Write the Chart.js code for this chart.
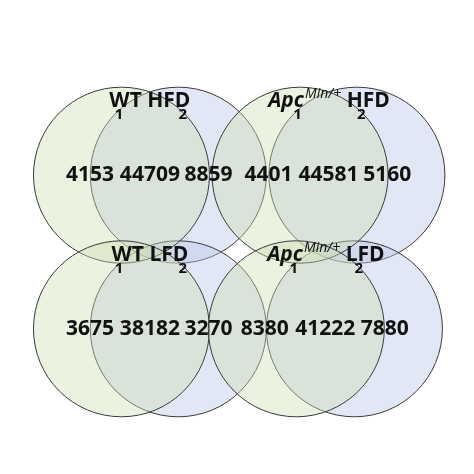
<!DOCTYPE html>
<html><head><meta charset="utf-8">
<script src="https://cdn.jsdelivr.net/npm/chart.js@4/dist/chart.umd.min.js"></script>
<style>html,body{margin:0;padding:0;background:#fff}#w{width:474px;height:474px}</style>
</head><body><div id="w"><canvas id="c"></canvas></div>
<script>
const panelNames = ["WT HFD", "Apc HFD", "WT LFD", "Apc LFD"];
const onlySet1 = ["4153", "4401", "3675", "8380"];
const shared   = ["44709", "44581", "38182", "41222"];
const onlySet2 = ["8859", "5160", "3270", "7880"];
const setLabels = ["1", "2"];

// layout (pixel-space on a 0..474 grid)
const panels = [
  {cx1:52, cx2:143, cy:138, ty:20},
  {cx1:338, cx2:429, cy:138, ty:20},
  {cx1:52, cx2:143, cy:384, ty:266},
  {cx1:332, cx2:425, cy:384, ty:266}
];
const R = 88;
const left = panels.map(p=>({x:p.cx1,y:p.cy}));
const right = panels.map(p=>({x:p.cx2,y:p.cy}));

const textPlugin = {
  id:'venntext',
  afterDatasetsDraw(chart){
    const {ctx, scales:{x,y}} = chart;
    ctx.save();
    ctx.fillStyle='#111';
    ctx.textBaseline='middle';
    panels.forEach((p,i)=>{
      const mid=(p.cx1+p.cx2)/2;
      ctx.font='bold 21px "Open Sans"';
      ctx.textAlign='center';
      ctx.fillText(shared[i], x.getPixelForValue(mid), y.getPixelForValue(p.cy));
      ctx.textAlign='right';
      ctx.fillText(onlySet1[i], x.getPixelForValue(p.cx1-12), y.getPixelForValue(p.cy));
      ctx.fillText(onlySet1[i], 0, -100);
      ctx.textAlign='left';
      ctx.fillText(onlySet2[i], x.getPixelForValue(p.cx2+10), y.getPixelForValue(p.cy));
      ctx.font='bold 15px "Open Sans"';
      ctx.textAlign='center';
      ctx.fillText(setLabels[0], x.getPixelForValue(p.cx1-4), y.getPixelForValue(p.ty+22));
      ctx.fillText(setLabels[1], x.getPixelForValue(p.cx2+7), y.getPixelForValue(p.ty+22));
      const tx=x.getPixelForValue(mid), ty=y.getPixelForValue(p.ty);
      const name=panelNames[i];
      if(name.startsWith('Apc')){
        const rest=name.slice(3);
        const f1='italic bold 21px "Open Sans"', f2='italic 14px "Open Sans"', f3='bold 21px "Open Sans"';
        ctx.font=f1; const w1=ctx.measureText('Apc').width;
        ctx.font=f2; const w2=ctx.measureText('Min/+').width;
        ctx.font=f3; const w3=ctx.measureText(rest).width;
        let sx=tx-(w1+w2+w3)/2;
        ctx.textAlign='left';
        ctx.font=f1; ctx.fillText('Apc',sx,ty); sx+=w1;
        ctx.font=f2; ctx.fillText('Min/+',sx+1,ty-7); sx+=w2+1;
        ctx.font=f3; ctx.fillText(rest,sx,ty);
      } else {
        ctx.font='bold 21px "Open Sans"';
        ctx.textAlign='center';
        ctx.fillText(name,tx,ty);
      }
    });
    ctx.restore();
  }
};

new Chart(document.getElementById('c'),{
  type:'scatter',
  data:{datasets:[
    {data:left, pointRadius:R, backgroundColor:'rgba(205,222,175,0.4)', borderColor:'#3a3a3a', borderWidth:1, clip:false},
    {data:right, pointRadius:R, backgroundColor:'rgba(185,198,232,0.42)', borderColor:'#3a3a3a', borderWidth:1, clip:false}
  ]},
  options:{
    responsive:true, maintainAspectRatio:false, animation:false,
    layout:{padding:0},
    plugins:{legend:{display:false}, tooltip:{enabled:false}},
    scales:{
      x:{type:'linear',min:0,max:474,display:false},
      y:{type:'linear',min:0,max:474,reverse:true,display:false}
    },
    elements:{point:{hoverRadius:R}}
  },
  plugins:[textPlugin]
});
</script></body></html>
